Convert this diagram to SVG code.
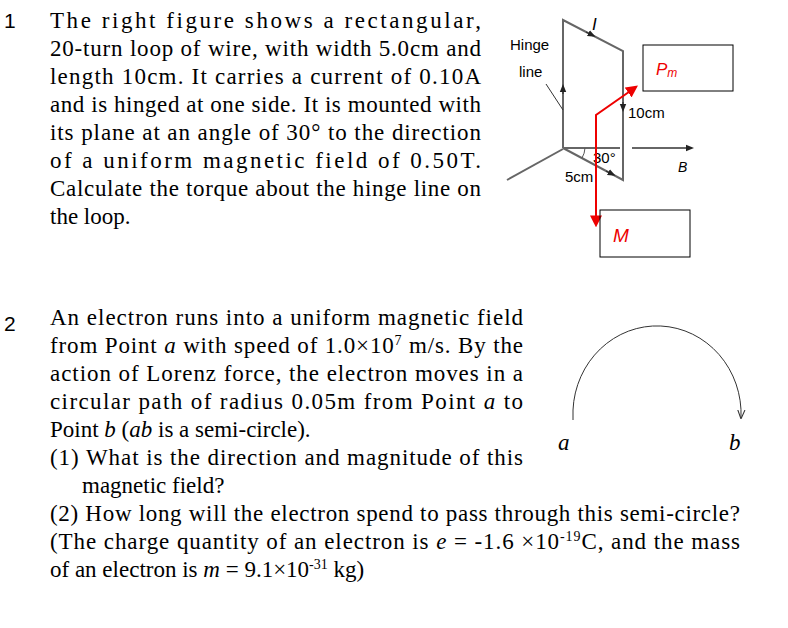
<svg xmlns="http://www.w3.org/2000/svg" width="788" height="628" viewBox="0 0 788 628">
<style>
.t{font-family:"Liberation Serif",serif;font-size:23px;fill:#000}
.s{font-family:"Liberation Sans",sans-serif;fill:#000}
.g{stroke:#666;stroke-width:2;fill:none}
.r{stroke:#e00;stroke-width:2;fill:none}
</style>
<defs>
<marker id="ga" viewBox="0 0 10 10" refX="5" refY="5" markerWidth="8" markerHeight="8" markerUnits="userSpaceOnUse" orient="auto"><path d="M0,1L10,5L0,9z" fill="#222"/></marker>
<marker id="ra" viewBox="0 0 10 10" refX="8" refY="5" markerWidth="6" markerHeight="6" orient="auto"><path d="M0,0L10,5L0,10z" fill="#e00"/></marker>
<marker id="ba" viewBox="0 0 10 10" refX="9" refY="5" markerWidth="9" markerHeight="9" markerUnits="userSpaceOnUse" orient="auto"><path d="M0,1L10,5L0,9" fill="none" stroke="#333" stroke-width="1.2"/></marker>
</defs>
<rect width="788" height="628" fill="#fff"/>
<g id="q1">
<text class="s" x="4" y="28" font-size="21">1</text>
<text class="t" x="50" y="28" textLength="431" lengthAdjust="spacing">The right figure shows a rectangular,</text>
<text class="t" x="50" y="56" textLength="431" lengthAdjust="spacing">20-turn loop of wire, with width 5.0cm and</text>
<text class="t" x="50" y="84" textLength="431" lengthAdjust="spacing">length 10cm. It carries a current of 0.10A</text>
<text class="t" x="50" y="112" textLength="431" lengthAdjust="spacing">and is hinged at one side. It is mounted with</text>
<text class="t" x="50" y="140" textLength="431" lengthAdjust="spacing">its plane at an angle of 30° to the direction</text>
<text class="t" x="50" y="168" textLength="431" lengthAdjust="spacing">of a uniform magnetic field of 0.50T.</text>
<text class="t" x="50" y="196" textLength="431" lengthAdjust="spacing">Calculate the torque about the hinge line on</text>
<text class="t" x="50" y="224">the loop.</text>
</g>
<g id="loop">
<path class="g" d="M563,148 V20 L623,51 V180 L563,148 H620"/>
<path class="g" d="M563,149 L507,180"/>
<path d="M546,84 L563,110" stroke="#333" stroke-width="1" fill="none"/>
<path d="M563,94 L563,88" stroke="#222" marker-end="url(#ga)"/>
<path d="M586,32 L592,35" stroke="#222" marker-end="url(#ga)"/>
<path d="M623,102 L623,108" stroke="#222" marker-end="url(#ga)"/>
<path d="M606,171 L612,174" stroke="#222" marker-end="url(#ga)"/>
<path d="M585,148 A22,22 0 0 1 582,158" stroke="#555" fill="none"/>
</g>
<g id="field">
<path d="M632,148 H690" stroke="#666" stroke-width="2" marker-end="url(#ga)"/>
<text class="s" x="678" y="172" font-size="14" font-style="italic">B</text>
</g>
<g id="labels1">
<text class="s" x="510" y="50" font-size="15">Hinge</text>
<text class="s" x="519" y="77" font-size="15">line</text>
<text class="s" x="592" y="30" font-size="17" font-style="italic" font-family="Liberation Serif">I</text>
<text class="s" x="628" y="118" font-size="15">10cm</text>
<text class="s" x="593" y="163" font-size="15">30°</text>
<text class="s" x="565" y="182" font-size="15">5cm</text>
</g>
<g id="vectors">
<path class="r" d="M596,180 V115 L636,87" marker-end="url(#ra)"/>
<path class="r" d="M596,170 V225" marker-end="url(#ra)"/>
</g>
<g id="Pm"><rect x="643" y="45" width="90" height="46" fill="none" stroke="#000"/>
<text class="s" x="656" y="75" font-size="17" font-style="italic" style="fill:#e00">P<tspan font-size="12" dy="2">m</tspan></text></g>
<g id="M"><rect x="600" y="210" width="90" height="47" fill="none" stroke="#000"/>
<text class="s" x="613" y="242" font-size="19" font-style="italic" style="fill:#e00">M</text></g>
<g id="q2">
<text class="s" x="4" y="331" font-size="21">2</text>
<text class="t" x="50" y="325" textLength="473" lengthAdjust="spacing">An electron runs into a uniform magnetic field</text>
<text class="t" x="50" y="353" textLength="473" lengthAdjust="spacing">from Point <tspan font-style="italic">a</tspan> with speed of 1.0×10<tspan font-size="14" dy="-8">7</tspan><tspan dy="8"> m/s. By the</tspan></text>
<text class="t" x="50" y="381" textLength="473" lengthAdjust="spacing">action of Lorenz force, the electron moves in a</text>
<text class="t" x="50" y="409" textLength="473" lengthAdjust="spacing">circular path of radius 0.05m from Point <tspan font-style="italic">a</tspan> to</text>
<text class="t" x="50" y="437">Point <tspan font-style="italic">b</tspan> (<tspan font-style="italic">ab</tspan> is a semi-circle).</text>
<text class="t" x="50" y="465" textLength="473" lengthAdjust="spacing">(1) What is the direction and magnitude of this</text>
<text class="t" x="82" y="493">magnetic field?</text>
<text class="t" x="50" y="521" textLength="690" lengthAdjust="spacing">(2) How long will the electron spend to pass through this semi-circle?</text>
<text class="t" x="50" y="549" textLength="690" lengthAdjust="spacing">(The charge quantity of an electron is <tspan font-style="italic">e</tspan> = -1.6 ×10<tspan font-size="14" dy="-8">-19</tspan><tspan dy="8">C, and the mass</tspan></text>
<text class="t" x="50" y="577">of an electron is <tspan font-style="italic">m</tspan> = 9.1×10<tspan font-size="14" dy="-8">-31</tspan><tspan dy="8"> kg)</tspan></text>
</g>
<g id="arc">
<path d="M573,420 V410 A84,88 0 0 1 741,418" stroke="#333" stroke-width="1" fill="none" marker-end="url(#ba)"/>
<text class="t" x="558" y="450" font-style="italic" font-size="25">a</text>
<text class="t" x="729" y="450" font-style="italic" font-size="25">b</text>
</g>
</svg>
